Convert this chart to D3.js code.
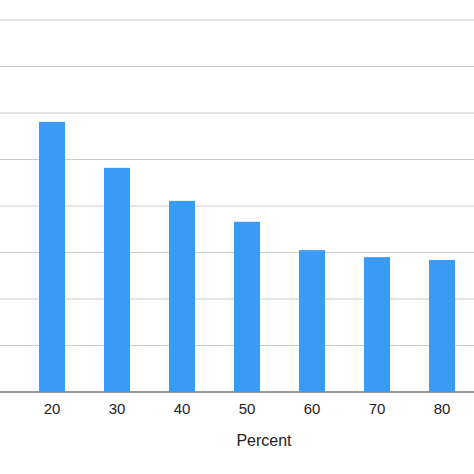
<!DOCTYPE html>
<html><head><meta charset="utf-8">
<script src="https://cdn.jsdelivr.net/npm/d3@7"></script>
<style>body{margin:0;background:#fff}</style></head>
<body><svg id="c" width="474" height="474"></svg>
<script>
const categories = ["20","30","40","50","60","70","80"];
const values = [5.81, 4.82, 4.11, 3.66, 3.05, 2.90, 2.84];
const yTicks = [0,1,2,3,4,5,6,7,8];

const svg = d3.select("#c");
const x = d3.scaleBand().domain(categories).range([19.5, 474.5]).paddingInner(0.6).paddingOuter(0.3);
const y = d3.scaleLinear().domain([0, 8]).range([392, 20]);

svg.append("g").selectAll("line").data(yTicks).join("line")
  .attr("x1", 0).attr("x2", 474)
  .attr("y1", d => y(d)).attr("y2", d => y(d))
  .attr("stroke", d => d === 0 ? "#333" : "#ccc").attr("stroke-width", 1);

svg.append("g").selectAll("rect").data(values).join("rect")
  .attr("x", (d, i) => x(categories[i]))
  .attr("width", x.bandwidth())
  .attr("y", d => y(d))
  .attr("height", d => y(0) - y(d))
  .attr("fill", "#3a9bf7");

svg.append("g").selectAll("text").data(categories).join("text")
  .attr("x", d => x(d) + x.bandwidth() / 2).attr("y", 414)
  .attr("text-anchor", "middle").attr("font-family", "Liberation Sans, Arial, sans-serif")
  .attr("font-size", 15).attr("fill", "#222").text(d => d);

svg.append("text").attr("x", 264).attr("y", 446).attr("text-anchor", "middle")
  .attr("font-family", "Liberation Sans, Arial, sans-serif").attr("font-size", 16)
  .attr("fill", "#222").text("Percent");
</script></body></html>
